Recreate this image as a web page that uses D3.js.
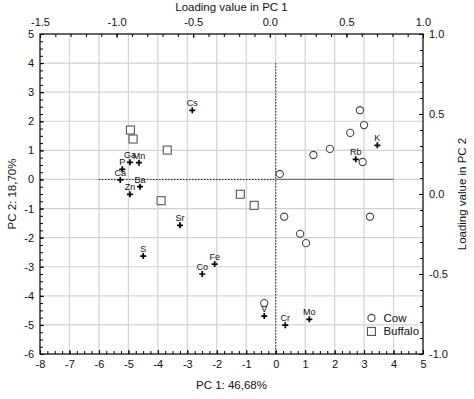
<!DOCTYPE html>
<html>
<head>
<meta charset="utf-8">
<script src="https://cdn.jsdelivr.net/npm/d3@7"></script>
<style>
  body { margin: 0; background: #fff; }
  svg text { font-family: "Liberation Sans", Arial, sans-serif; fill: #111; }
  .axis path { display: none; }
  .axis line { stroke: #000; }
</style>
</head>
<body>
<div id="chart"></div>
<script>
// sample scores
var cowPC1 = [2.86, 3.0, 2.53, 1.84, 1.28, 2.95, 0.14, 0.29, 3.20, 0.83, 1.03, -0.39]
var cowPC2 = [2.38, 1.87, 1.60, 1.05, 0.84, 0.60, 0.19, -1.28, -1.28, -1.87, -2.19, -4.25]
var buffaloPC1 = [-4.93, -4.84, -3.68, -3.89, -1.20, -0.73]
var buffaloPC2 = [1.70, 1.39, 1.01, -0.73, -0.51, -0.89]

// variable loadings
var elements = ["Cs", "Ga", "Mn", "P", "Ca", "Ba", "Zn", "Sr", "S", "Co", "Fe", "V", "Cr", "Mo", "Rb", "K"]
var loadPC1 = [-0.506, -0.913, -0.854, -0.963, -0.976, -0.847, -0.913, -0.586, -0.826, -0.441, -0.360, -0.036, 0.101, 0.258, 0.561, 0.702]
var loadPC2 = [0.523, 0.198, 0.196, 0.154, 0.088, 0.046, -0.002, -0.196, -0.388, -0.500, -0.438, -0.763, -0.820, -0.783, 0.217, 0.304]

var legendItems = ["Cow", "Buffalo"]

var margin = {top: 34, right: 51, bottom: 45, left: 40}
var width = 474 - margin.left - margin.right,
    height = 399 - margin.top - margin.bottom;

var svg = d3.select("#chart").append("svg")
    .attr("width", 474)
    .attr("height", 399);

var g = svg.append("g").attr("transform", "translate(" + margin.left + "," + margin.top + ")");

var x = d3.scaleLinear().domain([-8, 5]).range([0, width]);
var y = d3.scaleLinear().domain([-6, 5]).range([height, 0]);
var lx = d3.scaleLinear().domain([-1.5, 1.0]).range([0, width]);
var ly = d3.scaleLinear().domain([-1.0, 1.0]).range([height, 0]);

var intFmt = function(d) { return String(d) }
var decFmt = function(d) { return d.toFixed(1) }

// grid
g.append("g").selectAll("line")
    .data(x.ticks(13).filter(function(d) { return d > -8 && d < 5 }))
    .enter().append("line")
    .attr("x1", d => x(d)).attr("x2", d => x(d))
    .attr("y1", 0).attr("y2", height)
    .attr("stroke", "#d3d3d3").attr("stroke-width", 1.2);

g.append("g").selectAll("line")
    .data(y.ticks(11).filter(function(d) { return d > -6 && d < 5 }))
    .enter().append("line")
    .attr("y1", d => y(d)).attr("y2", d => y(d))
    .attr("x1", 0).attr("x2", width)
    .attr("stroke", "#d3d3d3").attr("stroke-width", 1.2);

// reference lines through the origin
g.append("line")
    .attr("x1", x(-6)).attr("x2", x(0))
    .attr("y1", y(0)).attr("y2", y(0))
    .attr("stroke", "#222").attr("stroke-dasharray", "1.5,1.5");
g.append("line")
    .attr("x1", x(0)).attr("x2", x(4))
    .attr("y1", y(0)).attr("y2", y(0))
    .attr("stroke", "#777").attr("stroke-width", 1.3);
g.append("line")
    .attr("x1", x(0)).attr("x2", x(0))
    .attr("y1", y(4)).attr("y2", y(-6))
    .attr("stroke", "#222").attr("stroke-dasharray", "1.5,1.5");

// minor ticks
g.append("g").attr("class", "axis").attr("transform", "translate(0," + height + ")")
    .call(d3.axisBottom(x).tickValues(d3.range(-8, 5.01, 0.25)).tickSize(-3).tickFormat(""));
g.append("g").attr("class", "axis")
    .call(d3.axisLeft(y).tickValues(d3.range(-6, 5.01, 0.25)).tickSize(-3).tickFormat(""));
g.append("g").attr("class", "axis")
    .call(d3.axisTop(lx).tickValues(d3.range(-1.5, 1.01, 0.1)).tickSize(-3).tickFormat(""));
g.append("g").attr("class", "axis").attr("transform", "translate(" + width + ",0)")
    .call(d3.axisRight(ly).tickValues(d3.range(-1, 1.01, 0.1)).tickSize(-3).tickFormat(""));

// major axes
var fs = "11px";
g.append("g").attr("class", "axis").attr("transform", "translate(0," + height + ")")
    .call(d3.axisBottom(x).ticks(13).tickSize(-4).tickPadding(6).tickFormat(intFmt))
    .selectAll("text").style("font-size", fs).attr("fill", "#111");
g.append("g").attr("class", "axis")
    .call(d3.axisLeft(y).ticks(11).tickSize(-4).tickPadding(6).tickFormat(intFmt))
    .selectAll("text").style("font-size", fs).attr("fill", "#111");
g.append("g").attr("class", "axis")
    .call(d3.axisTop(lx).tickValues([-1.5, -1.0, -0.5, 0, 0.5, 1.0]).tickSize(-4).tickPadding(8).tickFormat(decFmt))
    .selectAll("text").style("font-size", fs).attr("fill", "#111");
g.append("g").attr("class", "axis").attr("transform", "translate(" + width + ",0)")
    .call(d3.axisRight(ly).tickValues([-1.0, -0.5, 0, 0.5, 1.0]).tickSize(-4).tickPadding(6).tickFormat(decFmt))
    .selectAll("text").style("font-size", fs).attr("fill", "#111");

// frame
g.append("rect")
    .attr("width", width).attr("height", height)
    .attr("fill", "none").attr("stroke", "#000").attr("stroke-width", 1.2);

// axis titles
svg.append("text").attr("x", margin.left + width / 2).attr("y", 11)
    .attr("text-anchor", "middle").style("font-size", "11.5px").text("Loading value in PC 1");
svg.append("text").attr("x", margin.left + width / 2).attr("y", 389)
    .attr("text-anchor", "middle").style("font-size", "11.5px").text("PC 1: 46,68%");
svg.append("text")
    .attr("transform", "translate(16," + (margin.top + height / 2) + ") rotate(-90)")
    .attr("text-anchor", "middle").style("font-size", "11.5px").text("PC 2: 18,70%");
svg.append("text")
    .attr("transform", "translate(466," + (margin.top + height / 2) + ") rotate(-90)")
    .attr("text-anchor", "middle").style("font-size", "11.5px").text("Loading value in PC 2");

// buffalo samples
g.append("g").selectAll("rect")
    .data(buffaloPC1)
    .enter().append("rect")
    .attr("x", (d, i) => x(d) - 4)
    .attr("y", (d, i) => y(buffaloPC2[i]) - 4)
    .attr("width", 8).attr("height", 8)
    .attr("fill", "#fff").attr("stroke", "#555").attr("stroke-width", 1.1);

// cow samples
g.append("g").selectAll("circle")
    .data(cowPC1)
    .enter().append("circle")
    .attr("cx", d => x(d))
    .attr("cy", (d, i) => y(cowPC2[i]))
    .attr("r", 3.6)
    .attr("fill", "#fff").attr("stroke", "#444").attr("stroke-width", 1.1);

// loadings
var vars = g.append("g").selectAll("g")
    .data(elements)
    .enter().append("g")
    .attr("transform", (d, i) => "translate(" + lx(loadPC1[i]) + "," + ly(loadPC2[i]) + ")");

vars.append("path")
    .attr("d", "M-3,0H3M0,-3V3")
    .attr("stroke", "#000").attr("stroke-width", 1.7);

vars.append("text")
    .attr("y", -4)
    .attr("text-anchor", "middle")
    .style("font-size", "9px")
    .text(d => d);

// legend
var legend = g.append("g").attr("transform", "translate(" + (x(3.25)) + "," + (y(-4.76)) + ")");
legend.append("circle").attr("r", 3.6).attr("fill", "#fff").attr("stroke", "#444").attr("stroke-width", 1.1);
legend.append("rect").attr("x", -4).attr("y", 13.5 - 4).attr("width", 8).attr("height", 8)
    .attr("fill", "#fff").attr("stroke", "#555").attr("stroke-width", 1.1);
legend.selectAll("text")
    .data(legendItems)
    .enter().append("text")
    .attr("x", 12)
    .attr("y", (d, i) => i * 13.5 + 4)
    .style("font-size", "11.5px")
    .text(d => d);
</script>
</body>
</html>
